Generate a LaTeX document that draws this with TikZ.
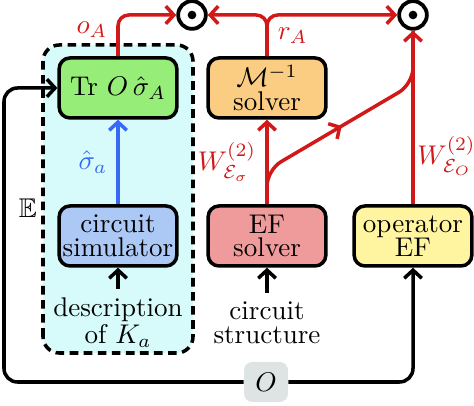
\documentclass[tikz,border=0pt]{standalone}
\usepackage{xcolor}
\usepackage{amsmath,amssymb}
\usepackage{tikz}
\usetikzlibrary{arrows.meta,decorations.markings}
\definecolor{vertboite}{RGB}{150,238,120}
\definecolor{bleuboite}{RGB}{172,200,245}
\definecolor{orangeboite}{RGB}{250,205,130}
\definecolor{rougeboite}{RGB}{240,155,155}
\definecolor{jauneboite}{RGB}{255,245,160}
\definecolor{cyanfond}{RGB}{215,250,250}
\definecolor{grisfond}{RGB}{222,228,228}
\definecolor{rougetrait}{RGB}{210,25,25}
\definecolor{bleutrait}{RGB}{55,105,245}
\begin{document}
\begin{tikzpicture}[x=0.013cm,y=0.013cm,font=\fontsize{10pt}{8.8pt}\selectfont]
    % Styles (MODIFIABLES)
    \tikzstyle{fleche}=[-{Straight Barb[length=3pt,width=6.5pt]},line width=1.3pt]
    \tikzstyle{boite}=[draw,line width=1.3pt,rounded corners=4pt,minimum width=1.53cm,minimum height=0.78cm,inner sep=1pt,align=center]
    \tikzstyle{texte}=[align=center]
    \tikzstyle{cercle}=[draw,circle,line width=1.4pt,minimum size=0.36cm,inner sep=0pt,fill=white]
    \tikzstyle{etiquette}=[midway]
    \tikzstyle{rouge}=[rougetrait,rounded corners=4pt]
    % Dimensions (MODIFIABLES)
    \def\ColA{118}
    \def\ColB{267}
    \def\ColC{413}
    \def\NiveauCercle{391}
    \def\NiveauHaut{318}
    \def\NiveauMilieu{170}
    \def\NiveauTexte{83}
    \def\NiveauBas{24}
    \def\Gauche{4}
    \useasboundingbox (0,0) rectangle (474,406);
    % Fond pointille
    \draw[dash pattern=on 3.2pt off 2pt,line width=1.3pt,fill=cyanfond,rounded corners=6pt] (43,53) rectangle (193,361);
    % Noeuds (MODIFIABLES)
    \node[boite,fill=vertboite] (TrO) at (\ColA,\NiveauHaut) {$\mathrm{Tr}\ O\,\hat{\sigma}_A$};
    \node[boite,fill=bleuboite] (SimCirc) at (\ColA,\NiveauMilieu) {circuit\\simulator};
    \node[texte] (DescK) at (\ColA,\NiveauTexte) {description\\of $K_a$};
    \node[boite,fill=orangeboite] (Minv) at (\ColB,\NiveauHaut) {$\mathcal{M}^{-1}$\\solver};
    \node[boite,fill=rougeboite] (SolvEF) at (\ColB,\NiveauMilieu) {EF\\solver};
    \node[texte] (StructCirc) at (\ColB,\NiveauTexte) {circuit\\structure};
    \node[boite,fill=jauneboite] (OpEF) at (\ColC,\NiveauMilieu) {operator\\EF};
    \node[cercle] (ProdA) at (192,\NiveauCercle) {};
    \node[cercle] (ProdB) at (\ColC,\NiveauCercle) {};
    \fill (ProdA.center) circle (1.6pt);
    \fill (ProdB.center) circle (1.6pt);
    \node[fill=grisfond,rounded corners=3pt,minimum width=0.57cm,minimum height=0.52cm] (Obs) at (266,\NiveauBas) {$O$};
    \node (Esp) at (28,198) {$\mathbb{E}$};
    \coordinate (Bifur) at (\ColB,236);
    \coordinate (Coude) at (\ColC,322);
    % Arcs (MODIFIABLES)
    \draw[fleche] (DescK)--(SimCirc);
    \draw[fleche] (StructCirc)--(SolvEF);
    \draw[fleche,bleutrait] (SimCirc)--(TrO) node[etiquette,left] {$\hat{\sigma}_a$};
    \draw[fleche,rouge] (TrO.north) |- (ProdA) node[pos=0.32,left] {$o_A$};
    \draw[fleche,rouge] (Minv.north) |- (ProdA) node[pos=0.25,right] {$r_A$};
    \draw[fleche,rouge] (Minv.north) |- (ProdB);
    \draw[fleche,rouge] (SolvEF)--(Minv) node[etiquette,left] {$W^{(2)}_{\mathcal{E}_\sigma}$};
    \draw[fleche,rouge] (OpEF)--(ProdB) node[pos=0.28,right,inner sep=1pt] {$W^{(2)}_{\mathcal{E}_O}$};
    \draw[rouge,line width=1.3pt,rounded corners=6pt,postaction={decorate},
      decoration={markings,mark=at position 0.47 with {\arrow{Straight Barb[length=3pt,width=6.5pt]}}}]
      (SolvEF.north)--(Bifur)--(Coude)--(ProdB.south);
    \draw[fleche,rounded corners=5pt] (Obs.west) -| (\Gauche,\NiveauHaut) -- (TrO.west);
    \draw[fleche,rounded corners=5pt] (Obs.east) -| (OpEF.south);
\end{tikzpicture}
\end{document}
